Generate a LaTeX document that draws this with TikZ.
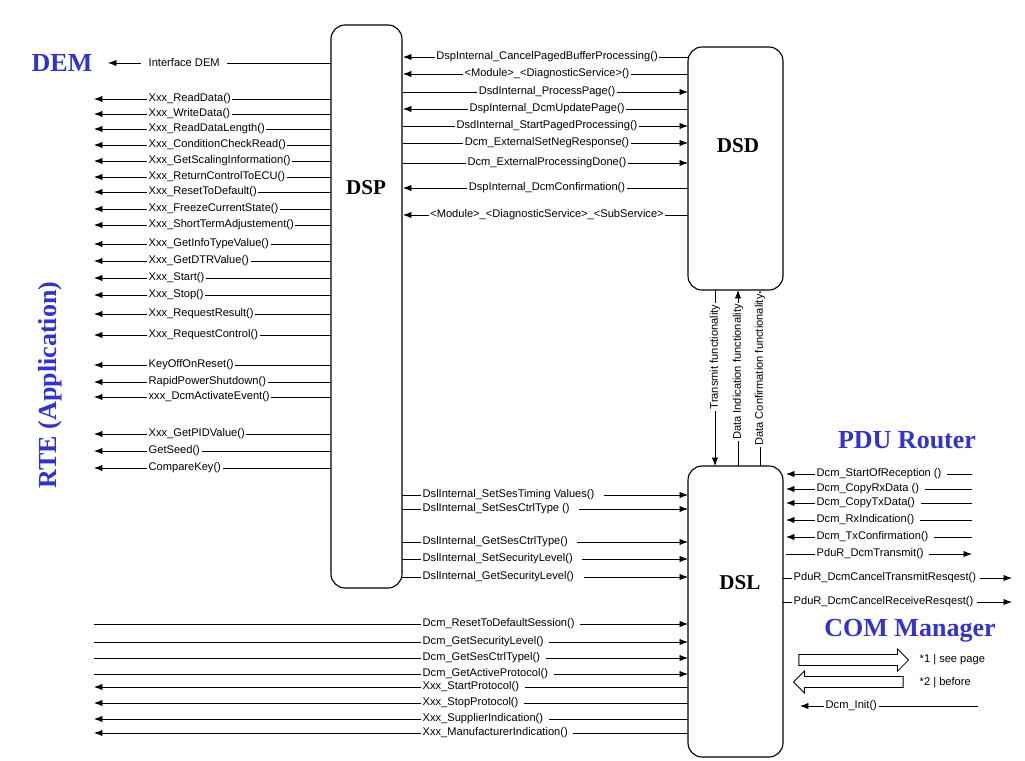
\documentclass[tikz,border=0pt]{standalone}
\usepackage{fontspec}
\setmainfont{Liberation Sans}
\newfontfamily\titlefont{Liberation Serif}
\usetikzlibrary{arrows.meta,shapes.arrows}
\definecolor{titleblue}{RGB}{51,51,204}
\tikzset{
  block/.style={draw,thick,rounded corners=10pt},
  fn/.style={inner sep=1pt,font=\fontsize{7.9}{8}\selectfont},
  title/.style={font=\titlefont\bfseries\fontsize{18.5}{19}\selectfont,text=titleblue},
  boxname/.style={font=\titlefont\bfseries\fontsize{15}{16}\selectfont},
  call/.style={semithick,-{Latex[length=6pt,width=4.5pt]}},
  hollow/.style={draw,semithick,single arrow,single arrow head extend=4pt,minimum height=78pt,inner sep=3.6pt}
}
\begin{document}
\begin{tikzpicture}[x=0.025cm,y=-0.025cm]
\useasboundingbox (0,0) rectangle (1025,761);

% Blocks
\draw[block] (331,25) rectangle (402,588);
\draw[block] (688,47) rectangle (783,290);
\draw[block] (688,466) rectangle (783,757);
\node[boxname] (dsp) at (366,188) {DSP};
\node[boxname] (dsd) at (738,146) {DSD};
\node[boxname] (dsl) at (740,583) {DSL};

% Titles
\node[title] (dem) at (62,63) {DEM};
\node[title,rotate=90] (rte) at (50,385) {RTE (Application)};
\node[title] (pdur) at (907,440) {PDU Router};
\node[title] (comm) at (910,631) {COM Manager};

% DEM interface
\node[fn,anchor=west] (ifdem) at (147,63) {Interface DEM};
\coordinate (ifdemL) at (108,63);
\draw[call] (ifdem.west) ++(-6,0) -- (ifdemL);
\draw[semithick] (ifdem.east) ++(6,0) -- (331,63);

% DSP to RTE
\foreach \y/\t [count=\i] in {
  99/Xxx\_ReadData(), 114/Xxx\_WriteData(), 129/Xxx\_ReadDataLength(),
  145/Xxx\_ConditionCheckRead(), 161/Xxx\_GetScalingInformation(),
  177/Xxx\_ReturnControlToECU(), 192/Xxx\_ResetToDefault(),
  209/Xxx\_FreezeCurrentState(), 225/Xxx\_ShortTermAdjustement(),
  244/Xxx\_GetInfoTypeValue(), 261/Xxx\_GetDTRValue(), 278/Xxx\_Start(),
  295/Xxx\_Stop(), 314/Xxx\_RequestResult(), 335/Xxx\_RequestControl(),
  365/KeyOffOnReset(), 382/RapidPowerShutdown(), 397/xxx\_DcmActivateEvent(),
  434/Xxx\_GetPIDValue(), 451/GetSeed(), 468/CompareKey()} {
  \node[fn,anchor=west] (rte\i) at (147,\y) {\t};
  \coordinate (rteL\i) at (94,\y);
  \coordinate (rteR\i) at (331,\y);
  \draw[call] (rte\i.west) -- (rteL\i);
  \draw[semithick] (rte\i.east) -- (rteR\i);
}

% DSP <-> DSD
\foreach \y/\t/\d [count=\i] in {
  57/DspInternal\_CancelPagedBufferProcessing()/l,
  74/<Module>\_<DiagnosticService>()/l,
  92/DsdInternal\_ProcessPage()/r,
  109/DspInternal\_DcmUpdatePage()/l,
  126/DsdInternal\_StartPagedProcessing()/r,
  143/Dcm\_ExternalSetNegResponse()/r,
  163/Dcm\_ExternalProcessingDone()/r,
  188/DspInternal\_DcmConfirmation()/l,
  215/<Module>\_<DiagnosticService>\_<SubService>/l} {
  \node[fn] (dd\i) at (547,\y) {\t};
  \coordinate (ddL\i) at (403,\y);
  \coordinate (ddR\i) at (688,\y);
  \if\d l
    \draw[call] (dd\i.west) -- (ddL\i);
    \draw[semithick] (dd\i.east) -- (ddR\i);
  \else
    \draw[semithick] (dd\i.west) -- (ddL\i);
    \draw[call] (dd\i.east) -- (ddR\i);
  \fi
}

% DSD <-> DSL
\coordinate (txA) at (715,290);  \coordinate (txB) at (715,466);
\coordinate (inA) at (738,466);  \coordinate (inB) at (738,290);
\coordinate (cfA) at (760,466);  \coordinate (cfB) at (760,290);
\draw[call] (txA) -- (txB);
\draw[call] (inA) -- (inB);
\draw[call] (cfA) -- (cfB);
\node[fn,rotate=90,fill=white] (tx) at (715,357) {Transmit functionality};
\node[fn,rotate=90,fill=white] (ind) at (738,372) {Data Indication functionality};
\node[fn,rotate=90,fill=white] (cnf) at (760,370) {Data Confirmation functionality};

% DSP -> DSL
\foreach \y/\t [count=\i] in {
  495/DslInternal\_SetSesTiming Values(), 509/DslInternal\_SetSesCtrlType (),
  542/DslInternal\_GetSesCtrlType(), 559/DslInternal\_SetSecurityLevel(),
  577/DslInternal\_GetSecurityLevel()} {
  \node[fn,anchor=west] (dl\i) at (421,\y) {\t};
  \coordinate (dlL\i) at (402,\y);
  \coordinate (dlR\i) at (688,\y);
  \draw[semithick] (dl\i.west) -- (dlL\i);
  \draw[call] (dl\i.east) ++(8,0) -- (dlR\i);
}

% RTE <-> DSL
\foreach \y/\t/\d [count=\i] in {
  624/Dcm\_ResetToDefaultSession()/r, 642/Dcm\_GetSecurityLevel()/r,
  658/Dcm\_GetSesCtrlTypel()/r, 674/Dcm\_GetActiveProtocol()/r,
  687/Xxx\_StartProtocol()/l, 703/Xxx\_StopProtocol()/l,
  719/Xxx\_SupplierIndication()/l, 733/Xxx\_ManufacturerIndication()/l} {
  \node[fn,anchor=west] (bt\i) at (421,\y) {\t};
  \coordinate (btL\i) at (94,\y);
  \coordinate (btR\i) at (688,\y);
  \if\d l
    \draw[call] (bt\i.west) -- (btL\i);
    \draw[semithick] (bt\i.east) ++(4,0) -- (btR\i);
  \else
    \draw[semithick] (bt\i.west) -- (btL\i);
    \draw[call] (bt\i.east) ++(4,0) -- (btR\i);
  \fi
}

% DSL <-> PDU Router
\foreach \y/\t/\d [count=\i] in {
  474/Dcm\_StartOfReception ()/l, 489/Dcm\_CopyRxData ()/l,
  503/Dcm\_CopyTxData()/l, 520/Dcm\_RxIndication()/l,
  537/Dcm\_TxConfirmation()/l, 554/PduR\_DcmTransmit()/r} {
  \node[fn,anchor=west] (pr\i) at (815,\y) {\t};
  \coordinate (prL\i) at (786,\y);
  \coordinate (prR\i) at (972,\y);
  \if\d l
    \draw[call] (pr\i.west) -- (prL\i);
    \draw[semithick] (pr\i.east) ++(4,0) -- (prR\i);
  \else
    \draw[semithick] (pr\i.west) -- (prL\i);
    \draw[call] (pr\i.east) ++(4,0) -- (prR\i);
  \fi
}
\foreach \y/\t [count=\i] in {
  578/PduR\_DcmCancelTransmitResqest(), 602/PduR\_DcmCancelReceiveResqest()} {
  \node[fn,anchor=west] (pc\i) at (792,\y) {\t};
  \coordinate (pcL\i) at (783,\y);
  \coordinate (pcR\i) at (1012,\y);
  \draw[semithick] (pc\i.west) -- (pcL\i);
  \draw[call] (pc\i.east) ++(2,0) -- (pcR\i);
}

% COM Manager
\node[hollow] (out) at (851,660) {};
\node[hollow,shape border rotate=180] (in) at (851,682) {};
\node[fn,anchor=west] (see) at (918,660) {*1 | see page};
\node[fn,anchor=west] (bef) at (918,683) {*2 | before};
\node[fn,anchor=west] (init) at (824,706) {Dcm\_Init()};
\coordinate (initL) at (800,706);
\coordinate (initR) at (978,706);
\draw[call] (init.west) -- (initL);
\draw[semithick] (init.east) -- (initR);

\end{tikzpicture}
\end{document}
